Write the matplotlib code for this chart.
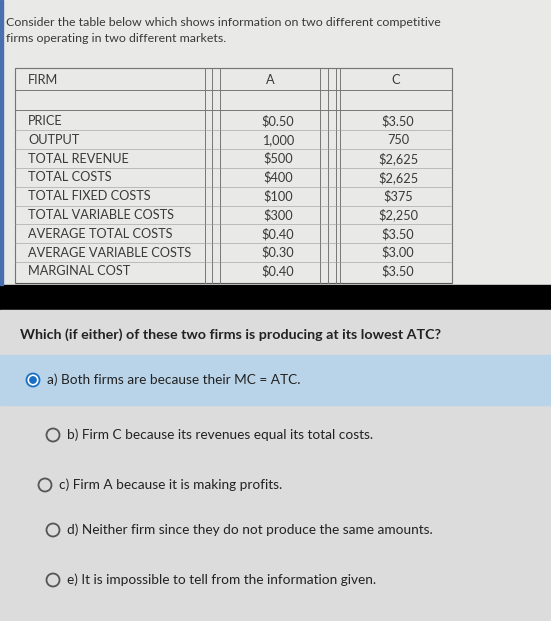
import matplotlib

matplotlib.use("Agg")

import matplotlib.pyplot as plt
from matplotlib.patches import Rectangle, Circle

plt.rcParams["font.family"] = ["Lato", "DejaVu Sans"]

# ---------------------------------------------------------------------
# Datos
# ---------------------------------------------------------------------
intro = ["Consider the table below which shows information on two different competitive",
         "firms operating in two different markets."]
row_labels = ["PRICE", "OUTPUT", "TOTAL REVENUE", "TOTAL COSTS", "TOTAL FIXED COSTS",
              "TOTAL VARIABLE COSTS", "AVERAGE TOTAL COSTS", "AVERAGE VARIABLE COSTS",
              "MARGINAL COST"]
firm_a = ["$0.50", "1,000", "$500", "$400", "$100", "$300", "$0.40", "$0.30", "$0.40"]
firm_c = ["$3.50", "750", "$2,625", "$2,625", "$375", "$2,250", "$3.50", "$3.00", "$3.50"]
question = "Which (if either) of these two firms is producing at its lowest ATC?"
options = ["a) Both firms are because their MC = ATC.",
           "b) Firm C because its revenues equal its total costs.",
           "c) Firm A because it is making profits.",
           "d) Neither firm since they do not produce the same amounts.",
           "e) It is impossible to tell from the information given."]

W, H = 551, 621
fig = plt.figure(figsize=(W / 100, H / 100), dpi=100)
ax = fig.add_axes([0, 0, 1, 1])
ax.set_xlim(0, W)
ax.set_ylim(H, 0)
ax.axis("off")

# fondos
ax.add_patch(Rectangle((0, 0), W, 290, color="#e9e9e7"))
ax.add_patch(Rectangle((0, 285), W, 25, color="black"))
ax.add_patch(Rectangle((0, 310), W, 311, color="#dcdcdc"))
ax.add_patch(Rectangle((0, 355), W, 50, color="#b9d4e8"))
ax.add_patch(Rectangle((0, 0), 3, 285, color="#4a6fb0"))

txt = "#3a3a3a"
for i, line in enumerate(intro):
    ax.text(6, 22 + i * 17, line, fontsize=8.9, color=txt, va="center")

# tabla
x_left, x_right = 15, 452
cols = [15, 205, 212, 220, 320, 328, 336, 340, 452]
ax.add_patch(Rectangle((x_left, 68), x_right - x_left, 215, fill=False, ec="#555", lw=0.8))
for x in cols:
    ax.plot([x, x], [68, 283], color="#777", lw=0.7)
for y in [68, 90, 110]:
    ax.plot([x_left, x_right], [y, y], color="#777", lw=0.7)
ax.text(28, 80, "FIRM", fontsize=9.2, color=txt, va="center")
ax.text(270, 80, "A", fontsize=9.2, color=txt, va="center", ha="center")
ax.text(396, 80, "C", fontsize=9.2, color=txt, va="center", ha="center")

for i, (lab, a, c) in enumerate(zip(row_labels, firm_a, firm_c)):
    y = 121 + i * 18.8
    ax.text(28, y, lab, fontsize=9.2, color=txt, va="center")
    ax.text(278, y, a, fontsize=9.2, color=txt, va="center", ha="center")
    ax.text(398, y, c, fontsize=9.2, color=txt, va="center", ha="center")
    if i < len(row_labels) - 1:
        ax.plot([x_left, x_right], [y + 9.4, y + 9.4], color="#999", lw=0.4)

# pregunta
ax.text(20, 335, question, fontsize=10.3, color="#222", va="center", weight="bold")
opt_y = [380, 435, 485, 530, 580]
opt_x = [38, 58, 50, 58, 58]
for i, (o, y, x) in enumerate(zip(options, opt_y, opt_x)):
    ax.add_patch(Circle((x - 5, y), 6.5, fill=i == 0, fc="white", ec="#1a6fc4" if i == 0 else "#555", lw=1.3))
    if i == 0:
        ax.add_patch(Circle((x - 5, y), 3.2, color="#1a6fc4"))
    ax.text(x + 9, y, o, fontsize=9.8, color="#222", va="center")

fig.savefig("out.png", dpi=100)
